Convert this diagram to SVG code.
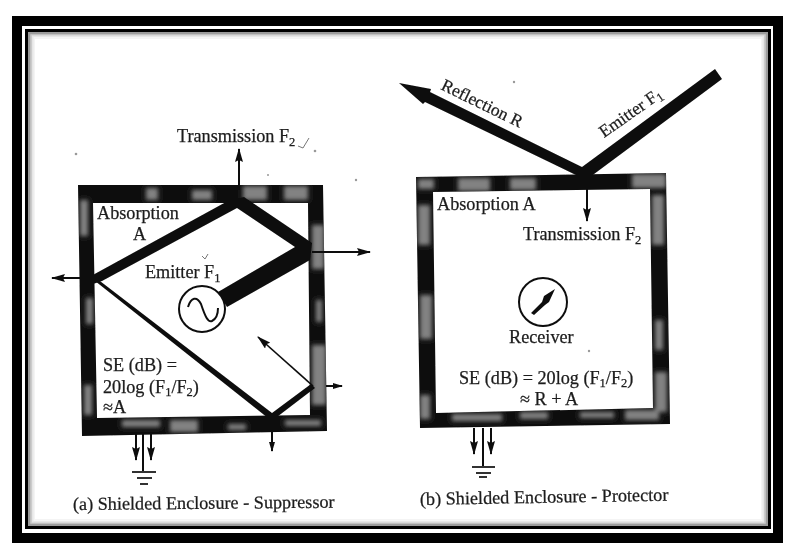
<svg xmlns="http://www.w3.org/2000/svg" width="800" height="556" viewBox="0 0 800 556">
<defs>
<filter id="soft" x="-5%" y="-5%" width="110%" height="110%"><feGaussianBlur stdDeviation="0.6"/></filter>
<filter id="mottle" x="-10%" y="-10%" width="120%" height="120%"><feGaussianBlur stdDeviation="2"/></filter>
<clipPath id="clip-a"><path clip-rule="evenodd" d="M78 185L323 185L327 431L82 436ZM93 203L308 203L310 415L97 418Z"/></clipPath>
<clipPath id="clip-b"><path clip-rule="evenodd" d="M416 177L666 173L670 424L420 428ZM433 192L650 189L653 408L436 413Z"/></clipPath>
<marker id="head" viewBox="0 0 14 8" refX="13" refY="4" markerUnits="userSpaceOnUse" markerWidth="14" markerHeight="8" orient="auto"><path d="M0 0L14 4L0 8L2 4Z" fill="#111"/></marker>
<marker id="smallhead" viewBox="0 0 10 6" refX="9" refY="3" markerUnits="userSpaceOnUse" markerWidth="10" markerHeight="6" orient="auto"><path d="M0 0L10 3L0 6Z" fill="#111"/></marker>
</defs>
<style>
text{font-family:"Liberation Serif","Times New Roman",serif;font-size:18.2px;fill:#1c1c1c;stroke:#1c1c1c;stroke-width:.25}
.rot{font-size:17.4px}
.sub{font-size:12.500px}
.wall{fill:#111;fill-rule:evenodd}
.patch{fill:#828282}
.ray{fill:#0c0c0c}
.thin{stroke:#111;stroke-width:2;fill:none}
.sym{stroke:#111;stroke-width:2;fill:#fff}
.bar{stroke:#333;stroke-width:1.8}
.speck{fill:#999}
.f{fill:none}
</style>
<rect width="800" height="556" fill="#fff"/>
<g id="frame">
<rect class="f" x="34" y="38" width="728" height="482" stroke="#f4f4f4" stroke-width="2"/>
<rect class="f" x="32.500" y="36" width="731" height="486" stroke="#e6e6e6" stroke-width="2"/>
<rect class="f" x="31" y="34.500" width="734" height="489" stroke="#cccccc" stroke-width="2"/>
<rect class="f" x="29" y="33" width="738" height="492" stroke="#9c9c9c" stroke-width="2.500"/>
<rect class="f" x="26.500" y="30.500" width="743" height="497" stroke="#000" stroke-width="3"/>
<rect class="f" x="17" y="21" width="761" height="517" stroke="#000" stroke-width="10"/>
</g>
<g filter="url(#soft)">
<g id="enclosure-a">
<path class="wall" d="M78 185L323 185L327 431L82 436ZM93 203L308 203L310 415L97 418Z"/>
<g clip-path="url(#clip-a)"><g class="patch" filter="url(#mottle)">
<rect x="146" y="188" width="12" height="12"/><rect x="192" y="190" width="20" height="10"/><rect x="243" y="186" width="24" height="14"/><rect x="284" y="186" width="24" height="14"/>
<rect x="80" y="200" width="8" height="36"/><rect x="86" y="298" width="7" height="26"/><rect x="84" y="385" width="8" height="30"/>
<rect x="312" y="225" width="12" height="44"/><rect x="316" y="300" width="6" height="22"/><rect x="312" y="345" width="14" height="60"/>
<rect x="122" y="420" width="38" height="7"/><rect x="170" y="420" width="28" height="12"/><rect x="228" y="424" width="18" height="6"/><rect x="285" y="420" width="36" height="6"/>
</g></g>
</g>
<g id="enclosure-b">
<path class="wall" d="M416 177L666 173L670 424L420 428ZM433 192L650 189L653 408L436 413Z"/>
<g clip-path="url(#clip-b)"><g class="patch" filter="url(#mottle)">
<rect x="418" y="179" width="16" height="10"/><rect x="458" y="178" width="32" height="13"/><rect x="510" y="178" width="26" height="12"/><rect x="632" y="174" width="34" height="14"/>
<rect x="418" y="205" width="12" height="40"/><rect x="420" y="295" width="12" height="44"/><rect x="420" y="395" width="10" height="24"/>
<rect x="652" y="195" width="12" height="50"/><rect x="655" y="320" width="8" height="30"/><rect x="655" y="372" width="12" height="40"/>
<rect x="452" y="414" width="50" height="7"/><rect x="520" y="412" width="28" height="7"/><rect x="580" y="412" width="34" height="6"/><rect x="625" y="410" width="34" height="10"/>
</g></g>
</g>
<g id="connectors">
<path class="ray" d="M91 276L226 202L244 197L312 243L310 260L227 307L218 292L295 247L237 208L102 281L93 284Z"/>
<path class="ray" d="M90 277L96 278L272 413L311 384L315 388L273 420L268 418Z"/>
<path class="ray" d="M399 83L431 89L430 92L582 167L715 69L722 79L586 180L580 177L425 102L423 104Z"/>
<path class="thin" d="M239 190V149" marker-end="url(#head)"/>
<path class="thin" d="M312 252H370" marker-end="url(#head)"/>
<path class="thin" d="M86 278H52" marker-end="url(#head)"/>
<path class="thin" d="M313 386L258 337" style="stroke-width:1.600" marker-end="url(#head)"/>
<path class="thin" d="M326 386H342" marker-end="url(#smallhead)"/>
<path class="thin" d="M272 430V451" marker-end="url(#smallhead)"/>
<path class="thin" d="M136 434V460" marker-end="url(#head)"/>
<path class="thin" d="M151 434V460" marker-end="url(#head)"/>
<path class="thin" d="M587 175V221" marker-end="url(#head)"/>
<path class="thin" d="M474 428V454" marker-end="url(#head)"/>
<path class="thin" d="M491 428V454" marker-end="url(#head)"/>
<path class="thin" d="M143 434V472"/>
<path class="thin" d="M483 428V467"/>
</g>
<g id="ground-a"><path class="bar" d="M132 472H156M137 478H152M140 484H148"/></g>
<g id="ground-b"><path class="bar" d="M472 467H495M476 473H491M479 477H487"/></g>
<g id="emitter">
<circle class="sym" cx="202" cy="309" r="23"/>
<path class="thin" d="M188 307C191 297 197 296 201 304C205 316 208 323 212 321C216 319 218 314 218 308"/>
</g>
<g id="receiver">
<circle class="sym" cx="543" cy="302" r="24"/>
<path d="M531 313L534 315L545 305L549 302L555 289L544 296L542 302Z" fill="#111"/>
</g>
<g id="labels">
<text x="177" y="142">Transmission F<tspan class="sub" dy="4">2</tspan></text>
<text x="97" y="219">Absorption</text>
<text x="133" y="240">A</text>
<text x="145" y="278">Emitter F<tspan class="sub" dy="4">1</tspan></text>
<text x="103" y="371">SE (dB) =</text>
<text x="103" y="393">20log (F<tspan class="sub" dy="3">1</tspan><tspan dy="-3">/F</tspan><tspan class="sub" dy="3">2</tspan><tspan dy="-3">)</tspan></text>
<text x="103" y="413">≈A</text>
<text x="73" y="510" transform="rotate(-.5 73 510)">(a) Shielded Enclosure - Suppressor</text>
<text class="rot" x="440" y="89" transform="rotate(26 440 89)">Reflection R</text>
<text class="rot" x="604" y="138" transform="rotate(-35 604 138)">Emitter F<tspan class="sub" dy="3">1</tspan></text>
<text x="437" y="210">Absorption A</text>
<text x="523" y="240">Transmission F<tspan class="sub" dy="4">2</tspan></text>
<text x="509" y="343">Receiver</text>
<text x="459" y="384">SE (dB) = 20log (F<tspan class="sub" dy="3">1</tspan><tspan dy="-3">/F</tspan><tspan class="sub" dy="3">2</tspan><tspan dy="-3">)</tspan></text>
<text x="520" y="405">≈ R + A</text>
<text x="420" y="505" transform="rotate(-1 420 505)">(b) Shielded Enclosure - Protector</text>
</g>
<g id="specks">
<circle class="speck" cx="76" cy="154" r="1.300"/><circle class="speck" cx="315" cy="151" r="1.300"/><circle class="speck" cx="268" cy="175" r="1"/><circle class="speck" cx="356" cy="180" r="1.200"/><circle class="speck" cx="514" cy="82" r="1.200"/><circle class="speck" cx="589" cy="351" r="1.200"/>
<path d="M202 256L205 259L208 254M298 146L303 148L309 138" fill="none" stroke="#777" stroke-width="1"/>
</g>
</g>
</svg>
